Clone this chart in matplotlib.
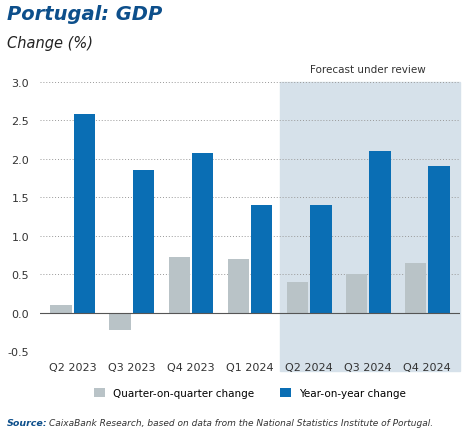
import matplotlib
matplotlib.use("Agg")
import matplotlib.pyplot as plt
from matplotlib.patches import Rectangle
import numpy as np

categories = ["Q2 2023", "Q3 2023", "Q4 2023", "Q1 2024", "Q2 2024", "Q3 2024", "Q4 2024"]
qoq = [0.10, -0.22, 0.72, 0.70, 0.40, 0.50, 0.65]
yoy = [2.58, 1.85, 2.07, 1.40, 1.40, 2.10, 1.90]
yticks = [-0.5, 0.0, 0.5, 1.0, 1.5, 2.0, 2.5, 3.0]

fig = plt.figure(figsize=(4.74, 4.35), dpi=100)
ax = fig.add_axes([0.085, 0.19, 0.885, 0.62])
x = np.arange(len(categories))
w = 0.36
ax.add_patch(Rectangle((3.5, -0.75), 3.05, 3.75, color="#d6e1ea", zorder=0, clip_on=False))
ax.bar(x - w/2 - 0.02, qoq, w, color="#b9c3c7", label="Quarter-on-quarter change", zorder=2)
ax.bar(x + w/2 + 0.02, yoy, w, color="#0a6eb4", label="Year-on-year change", zorder=2)
ax.set_xlim(-0.55, 6.55)
ax.set_ylim(-0.5, 3.0)
ax.set_yticks(yticks)
ax.set_yticklabels([f"{v:.1f}" for v in yticks], fontsize=8, color="#333333")
ax.set_xticks(x)
ax.set_xticklabels(categories, fontsize=8, color="#333333")
ax.tick_params(length=0, pad=8)
ax.grid(axis="y", color="#999999", linestyle=(0, (1, 2)), linewidth=0.7, zorder=1)
for s in ax.spines.values():
    s.set_visible(False)
ax.axhline(0, color="#555555", linewidth=0.8, zorder=3)
ax.text(5.0, 3.1, "Forecast under review", ha="center", va="bottom", fontsize=7.5, color="#333333")
ax.legend(loc="upper center", bbox_to_anchor=(0.5, -0.1), ncol=2, frameon=False, fontsize=7.5,
          handlelength=1.0, handleheight=1.0, columnspacing=2.5)
fig.text(0.015, 0.955, "Portugal: GDP", fontsize=14, fontweight="bold", style="italic", color="#0d4f8b")
fig.text(0.015, 0.89, "Change (%)", fontsize=10.5, style="italic", color="#222222")
fig.text(0.015, 0.02, "Source:", fontsize=6.8, fontweight="bold", style="italic", color="#0d4f8b")
fig.text(0.103, 0.02, "CaixaBank Research, based on data from the National Statistics Institute of Portugal.",
         fontsize=6.5, style="italic", color="#333333")
fig.savefig("out.png", dpi=100)
